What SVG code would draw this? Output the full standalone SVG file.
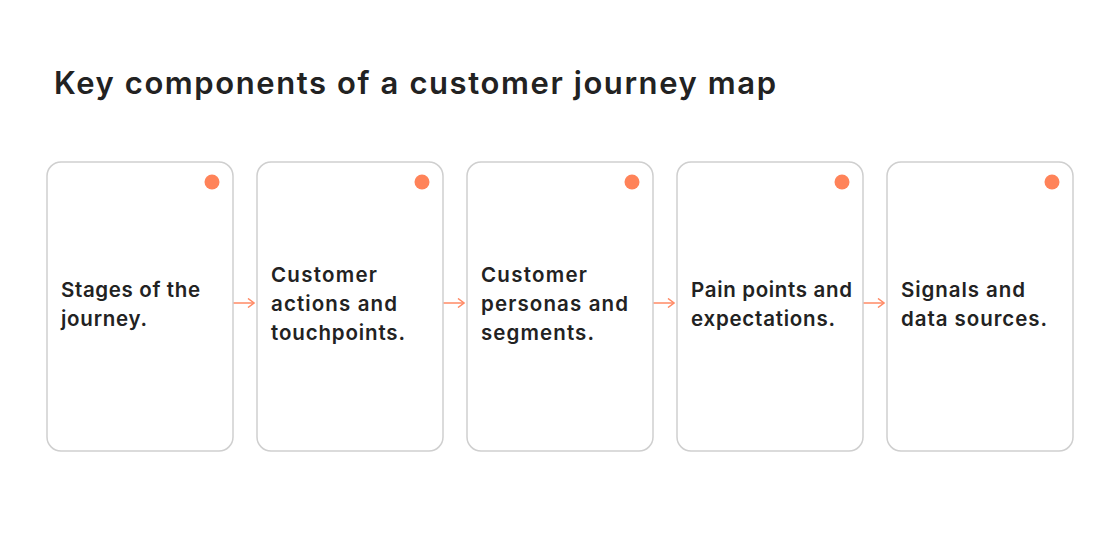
<svg xmlns="http://www.w3.org/2000/svg" width="1120" height="560" viewBox="0 0 1120 560">
<style>
.card{fill:#fff;stroke:#cfcfcf;stroke-width:1.5}
.dot{fill:#ff8359}
.lbl{font-family:Inter,"Liberation Sans",sans-serif;font-weight:600;font-size:20.5px;fill:#222}
.title{font-family:Inter,"Liberation Sans",sans-serif;font-weight:600;font-size:31px;fill:#222}
.conn{stroke:#ff8a65;stroke-width:1.5;fill:none}
</style>
<defs>
<marker id="ah" viewBox="0 0 10 10" refX="9" refY="5" markerWidth="10" markerHeight="10" markerUnits="userSpaceOnUse" orient="auto">
<path d="M3 0.5 L9 5 L3 9.5" fill="none" stroke="#ff8a65" stroke-width="1.5"/>
</marker>
</defs>
<rect width="1120" height="560" fill="#fff"/>
<text class="title" x="54" y="94" textLength="722" lengthAdjust="spacing">Key components of a customer journey map</text>
<g id="connectors">
<line class="conn" x1="233" y1="303" x2="254" y2="303" marker-end="url(#ah)"/>
<line class="conn" x1="443" y1="303" x2="464" y2="303" marker-end="url(#ah)"/>
<line class="conn" x1="653" y1="303" x2="674" y2="303" marker-end="url(#ah)"/>
<line class="conn" x1="863" y1="303" x2="884" y2="303" marker-end="url(#ah)"/>
</g>
<g id="card1">
<rect class="card" x="47" y="162" width="186" height="289" rx="14"/>
<circle class="dot" cx="212" cy="182" r="7.5"/>
<text class="lbl" x="61" y="297" textLength="139" lengthAdjust="spacing">Stages of the</text>
<text class="lbl" x="61" y="326" textLength="86" lengthAdjust="spacing">journey.</text>
</g>
<g id="card2">
<rect class="card" x="257" y="162" width="186" height="289" rx="14"/>
<circle class="dot" cx="422" cy="182" r="7.5"/>
<text class="lbl" x="271" y="282" textLength="106" lengthAdjust="spacing">Customer</text>
<text class="lbl" x="271" y="311" textLength="126" lengthAdjust="spacing">actions and</text>
<text class="lbl" x="271" y="340" textLength="134" lengthAdjust="spacing">touchpoints.</text>
</g>
<g id="card3">
<rect class="card" x="467" y="162" width="186" height="289" rx="14"/>
<circle class="dot" cx="632" cy="182" r="7.5"/>
<text class="lbl" x="481" y="282" textLength="106" lengthAdjust="spacing">Customer</text>
<text class="lbl" x="481" y="311" textLength="147" lengthAdjust="spacing">personas and</text>
<text class="lbl" x="481" y="340" textLength="113" lengthAdjust="spacing">segments.</text>
</g>
<g id="card4">
<rect class="card" x="677" y="162" width="186" height="289" rx="14"/>
<circle class="dot" cx="842" cy="182" r="7.5"/>
<text class="lbl" x="691" y="297" textLength="161" lengthAdjust="spacing">Pain points and</text>
<text class="lbl" x="691" y="326" textLength="144" lengthAdjust="spacing">expectations.</text>
</g>
<g id="card5">
<rect class="card" x="887" y="162" width="186" height="289" rx="14"/>
<circle class="dot" cx="1052" cy="182" r="7.5"/>
<text class="lbl" x="901" y="297" textLength="124" lengthAdjust="spacing">Signals and</text>
<text class="lbl" x="901" y="326" textLength="146" lengthAdjust="spacing">data sources.</text>
</g>
</svg>
